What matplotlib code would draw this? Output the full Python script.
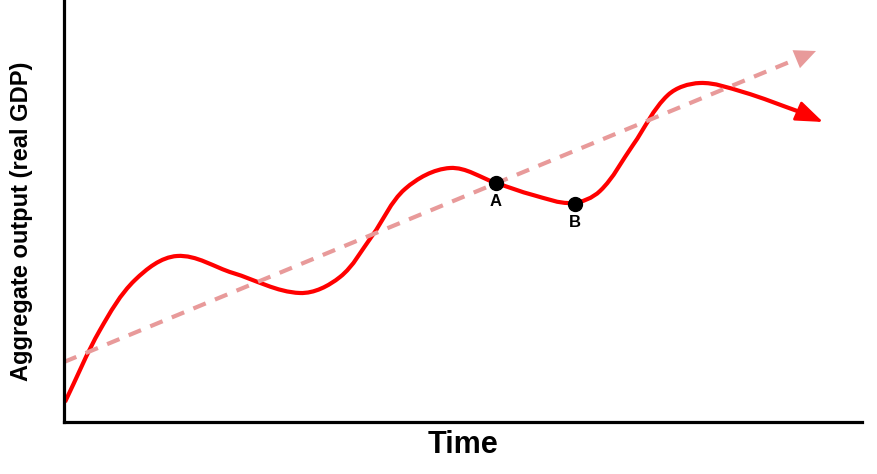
import math
import matplotlib.pyplot as plt
from matplotlib.path import Path
from matplotlib.patches import PathPatch

# business cycle curve (time, output)
time = [1, 36, 71, 113, 169, 236, 276, 308, 341, 386, 432, 469, 508, 536,
        569, 604, 636, 679, 736]
output = [20, 92, 142, 166, 149, 129, 145, 186, 233, 254, 239, 227, 219, 231,
          277, 327, 339, 330, 310]
curve_tip = (759, 300)

trend_time = [0, 752]
trend_output = [60, 371]

points = {'A': (432, 239), 'B': (511, 218)}

red = '#ff0000'
pink = '#e89a9a'


def smooth_path(xs, ys):
    # cubic bezier segments through the read points
    pts = list(zip(xs, ys))
    n = len(pts)

    def tangent(i):
        a = pts[max(i - 1, 0)]
        b = pts[min(i + 1, n - 1)]
        d = math.dist(a, b)
        return ((b[0] - a[0]) / d, (b[1] - a[1]) / d)

    verts = [pts[0]]
    codes = [Path.MOVETO]
    for i in range(n - 1):
        p1, p2 = pts[i], pts[i + 1]
        seg = math.dist(p1, p2) / 3
        t1, t2 = tangent(i), tangent(i + 1)
        verts += [(p1[0] + t1[0] * seg, p1[1] + t1[1] * seg),
                  (p2[0] - t2[0] * seg, p2[1] - t2[1] * seg), p2]
        codes += [Path.CURVE4] * 3
    return Path(verts, codes)


fig = plt.figure(figsize=(8.77, 4.74), dpi=100)
ax = fig.add_axes([64 / 877, 52 / 474, 798 / 877, 422 / 474])
ax.set_xlim(0, 798)
ax.set_ylim(0, 422)

# trend line, dashed, ending in an arrow head
slope = (trend_output[1] - trend_output[0]) / (trend_time[1] - trend_time[0])
ax.plot([trend_time[0], trend_time[1] - 18],
        [trend_output[0], trend_output[0] + slope * (trend_time[1] - 18)],
        color=pink, lw=3, dashes=(3.2, 2.4), solid_capstyle='butt', clip_on=False)
ax.annotate('', xy=(trend_time[1], trend_output[1]),
            xytext=(trend_time[1] - 20, trend_output[0] + slope * (trend_time[1] - 20)),
            arrowprops=dict(arrowstyle='-|>,head_length=1.1,head_width=0.5',
                            mutation_scale=14, color=pink, lw=0, shrinkA=0, shrinkB=0))

# actual output
ax.add_patch(PathPatch(smooth_path(time, output), facecolor='none',
                       edgecolor=red, lw=3, capstyle='butt', clip_on=False))
ax.annotate('', xy=curve_tip, xytext=(time[-1], output[-1]),
            arrowprops=dict(arrowstyle='-|>,head_length=1.2,head_width=0.45',
                            mutation_scale=14, color=red, lw=2, shrinkA=0, shrinkB=0))

for name, (px, py) in points.items():
    ax.plot(px, py, 'o', color='black', ms=10, zorder=5)
    ax.text(px, py - 11, name, ha='center', va='top', fontsize=12,
            fontweight='bold', family='Liberation Sans')

ax.spines['top'].set_visible(False)
ax.spines['right'].set_visible(False)
ax.spines['left'].set_linewidth(2.3)
ax.spines['bottom'].set_linewidth(2.3)
ax.set_xticks([])
ax.set_yticks([])

ax.set_xlabel('Time', fontsize=22, fontweight='bold', family='Liberation Sans', labelpad=6)
ax.set_ylabel('Aggregate output (real GDP)', fontsize=17, fontweight='bold',
              family='Liberation Sans')
ax.yaxis.set_label_coords(-0.039, 0.476)

fig.savefig('out.png', dpi=100)
